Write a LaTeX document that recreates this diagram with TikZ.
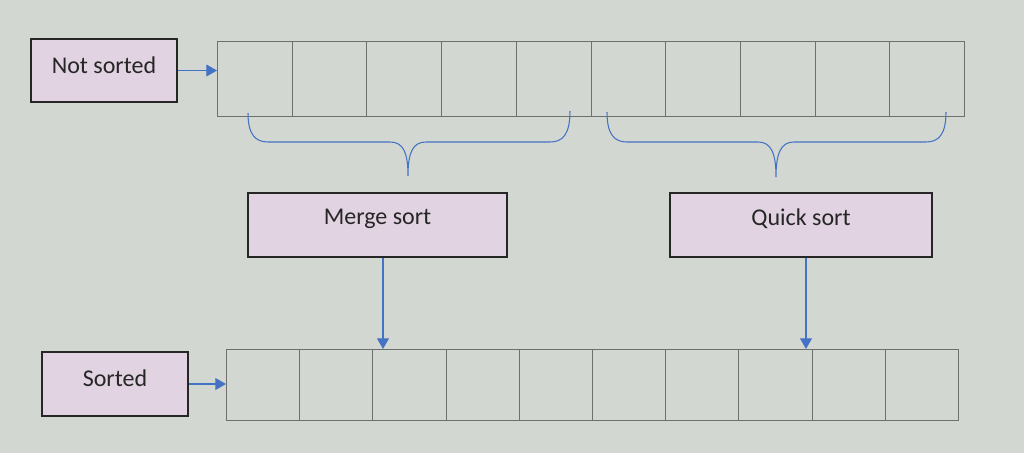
\documentclass[tikz,border=0pt]{standalone}
\usepackage{fontspec}
\setmainfont{Carlito}
\usetikzlibrary{arrows.meta,calc}
\definecolor{bg}{HTML}{D2D7D2}
\definecolor{boxfill}{HTML}{E2D3E2}
\definecolor{arrowblue}{HTML}{4472C4}
\definecolor{cellline}{HTML}{6E706E}
\tikzset{
  label box/.style={draw=black!85, line width=1.2pt, fill=boxfill, inner sep=0pt},
  box text/.style={font=\fontsize{20.5}{22}\selectfont, text=black!85, inner sep=0pt},
  cellbox/.style={draw=cellline, line width=0.5pt, inner sep=0pt, anchor=north west},
  connector/.style={draw=arrowblue, line width=0.9pt, -{Triangle[length=9pt,width=10pt]}},
  bracepath/.style={draw=arrowblue, line width=0.9pt},
}
\begin{document}
\begin{tikzpicture}[x=0.3mm,y=-0.3mm]
\fill[bg] (0,0) rectangle (1024,453);
\useasboundingbox (0,0) rectangle (1024,453);
% label boxes
\node[label box, minimum width=146*0.3mm, minimum height=63*0.3mm,
  label={[box text, yshift=5.5*0.3mm]center:Not sorted}] (notsorted) at (104,70.5) {};
\node[label box, minimum width=146*0.3mm, minimum height=64*0.3mm,
  label={[box text, yshift=5.5*0.3mm]center:Sorted}] (sorted) at (115,384) {};
\node[label box, minimum width=259*0.3mm, minimum height=64*0.3mm,
  label={[box text, yshift=6*0.3mm]center:Merge sort}] (merge) at (377.5,225) {};
\node[label box, minimum width=262*0.3mm, minimum height=64*0.3mm,
  label={[box text, yshift=6*0.3mm]center:Quick sort}] (quick) at (801,225) {};
% top array
\foreach \i in {1,...,10}{
  \node[cellbox, minimum width=74.7*0.3mm, minimum height=75*0.3mm] (t\i) at ({217+74.7*(\i-1)},41) {};
}
% bottom array
\foreach \i in {1,...,10}{
  \node[cellbox, minimum width=73.2*0.3mm, minimum height=71*0.3mm] (b\i) at ({226+73.2*(\i-1)},349) {};
}
% arrow anchor points
\coordinate (ms) at ($(merge.south)+(5.5,0)$);
\coordinate (qs) at ($(quick.south)+(5,0)$);
% arrows
\draw[connector] (notsorted.east) -- (notsorted.east -| t1.west);
\draw[connector] (sorted.east) -- (sorted.east -| b1.west);
\draw[connector] (ms) -- (ms |- b3.north);
\draw[connector] (qs) -- (qs |- b9.north);
% braces
\coordinate (l1) at (248,113);
\coordinate (l2) at (570,111);
\coordinate (lt) at (408,176);
\coordinate (r1) at (607,112);
\coordinate (r2) at (946,112);
\coordinate (rt) at (776,177);
\draw[bracepath] (l1) .. controls (248,134) and (255,142) .. (268,142) -- (390,142)
  .. controls (403,142) and (408,152) .. (lt)
  .. controls (408,152) and (413,142) .. (426,142) -- (550,142)
  .. controls (563,142) and (570,134) .. (l2);
\draw[bracepath] (r1) .. controls (607,134) and (614,142) .. (627,142) -- (758,142)
  .. controls (771,142) and (776,153) .. (rt)
  .. controls (776,153) and (781,142) .. (794,142) -- (926,142)
  .. controls (939,142) and (946,134) .. (r2);
\end{tikzpicture}
\end{document}
